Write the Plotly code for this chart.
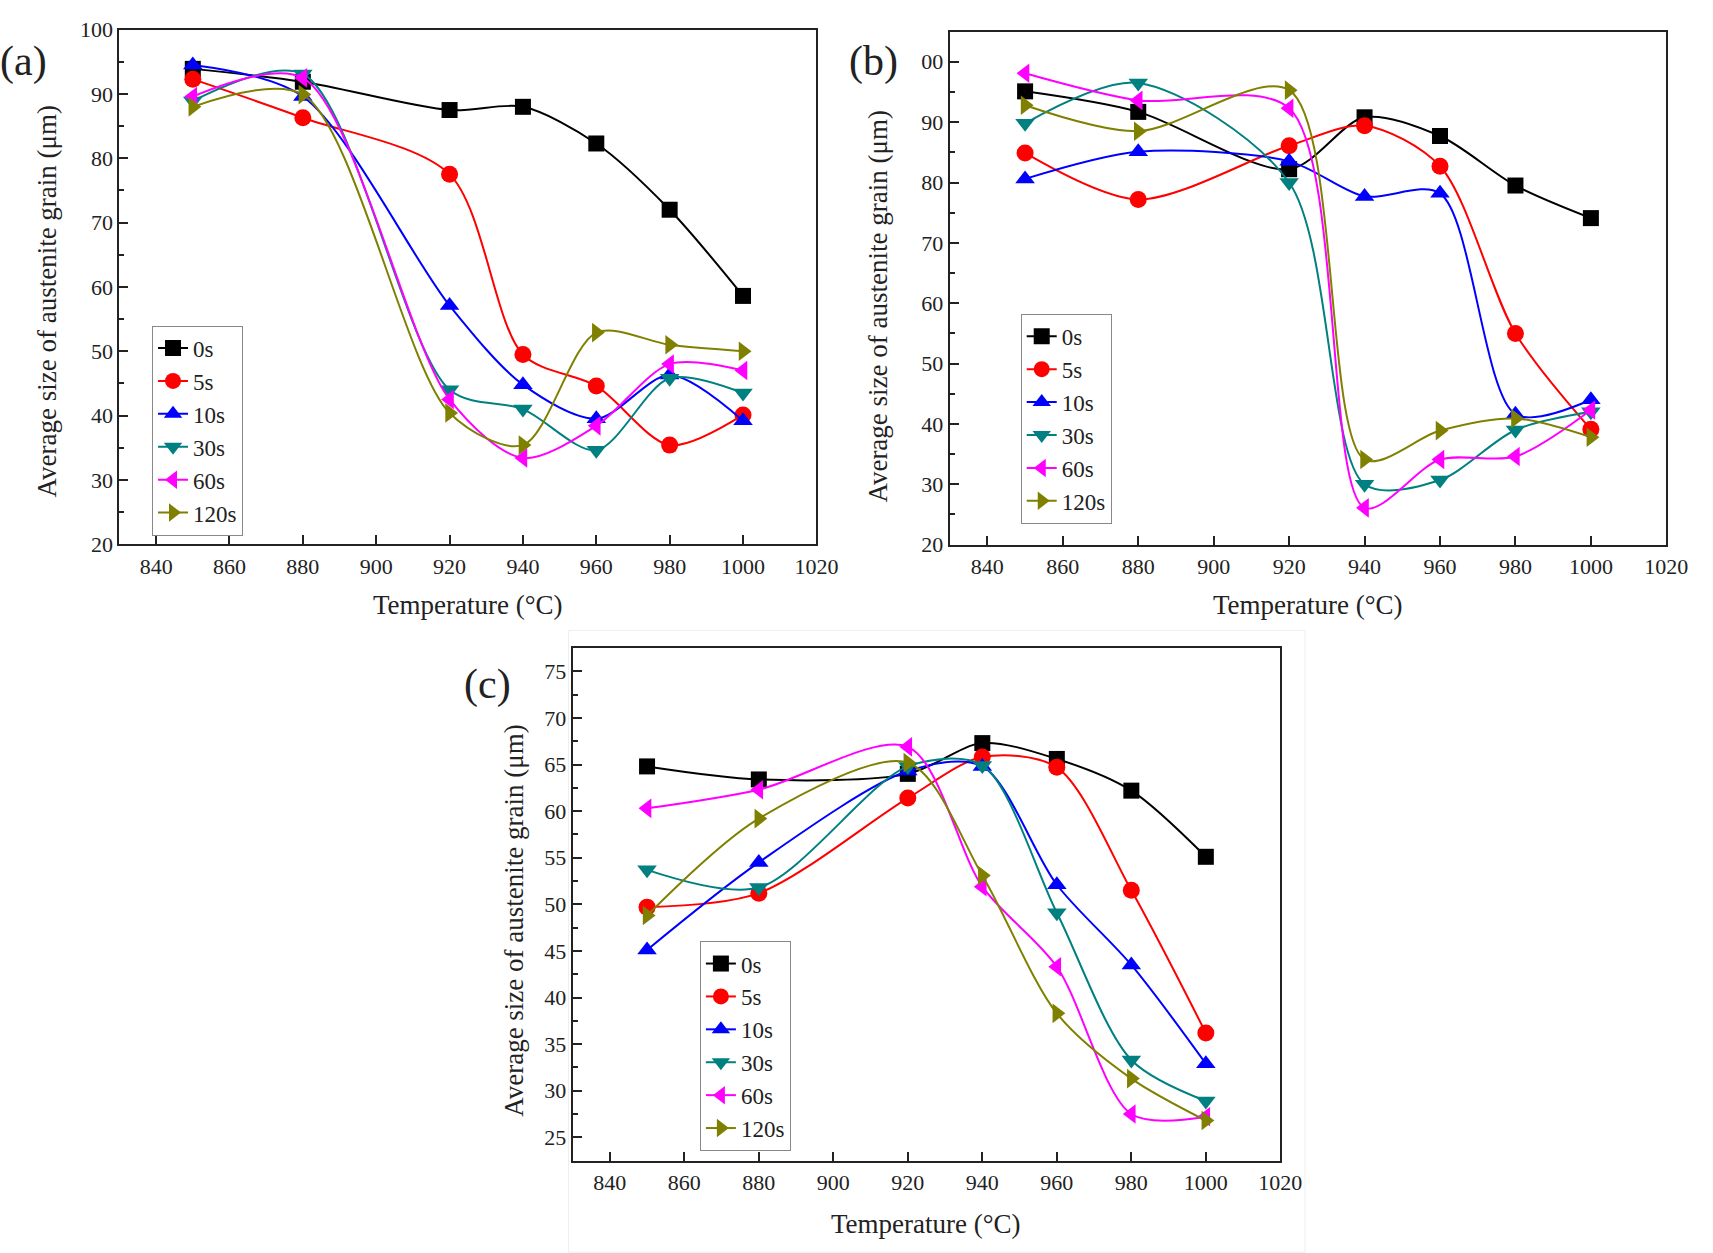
import plotly.graph_objects as go

# ---------------- data ----------------
temps = [850, 880, 920, 940, 960, 980, 1000]
series_names = ["0s", "5s", "10s", "30s", "60s", "120s"]

# panel (a)
a_0s = [93.9, 91.9, 87.5, 88.0, 82.3, 72.0, 58.6]
a_5s = [92.3, 86.3, 77.5, 49.5, 44.6, 35.4, 40.1]
a_10s = [94.5, 89.6, 57.1, 44.8, 39.5, 46.3, 39.2]
a_30s = [88.9, 93.1, 44.0, 41.0, 34.6, 45.8, 43.5]
a_60s = [89.6, 92.5, 42.5, 33.4, 38.4, 48.0, 47.0]
a_120s = [88.0, 89.9, 40.4, 35.4, 52.9, 51.0, 50.0]

# panel (b)
b_0s = [95.1, 91.7, 82.2, 90.8, 87.7, 79.5, 74.1]
b_5s = [84.9, 77.2, 86.1, 89.4, 82.7, 55.0, 39.1]
b_10s = [80.6, 85.1, 83.5, 77.7, 78.2, 41.6, 44.0]
b_30s = [89.8, 96.5, 80.0, 30.0, 30.7, 39.0, 42.0]
b_60s = [98.1, 93.6, 92.3, 26.1, 34.1, 34.6, 42.3]
b_120s = [92.8, 88.5, 95.3, 34.1, 38.9, 40.9, 37.8]

# panel (c)
c_0s = [64.8, 63.4, 64.0, 67.3, 65.6, 62.2, 55.1]
c_5s = [49.7, 51.2, 61.4, 65.8, 64.7, 51.5, 36.2]
c_10s = [45.1, 54.5, 64.3, 64.8, 52.1, 43.5, 32.9]
c_30s = [53.7, 51.8, 64.8, 64.9, 49.1, 33.3, 28.9]
c_60s = [60.3, 62.3, 66.9, 51.9, 43.3, 27.5, 27.2]
c_120s = [48.8, 59.2, 65.2, 53.1, 38.3, 31.3, 26.8]

x_tickvals = [840, 860, 880, 900, 920, 940, 960, 980, 1000, 1020]
x_ticktext = ["840", "860", "880", "900", "920", "940", "960", "980", "1000", "1020"]
a_ytickvals = [20, 30, 40, 50, 60, 70, 80, 90, 100]
a_yticktext = ["20", "30", "40", "50", "60", "70", "80", "90", "100"]
b_ytickvals = [20, 30, 40, 50, 60, 70, 80, 90, 100]
b_yticktext = ["20", "30", "40", "50", "60", "70", "80", "90", "00"]
c_ytickvals = [25, 30, 35, 40, 45, 50, 55, 60, 65, 70, 75]
c_yticktext = ["25", "30", "35", "40", "45", "50", "55", "60", "65", "70", "75"]

panel_labels = ["(a)", "(b)", "(c)"]
x_title = "Temperature (°C)"
y_title = "Average size of austenite grain (μm)"

# ---------------- styles ----------------
colors = ["#000000", "#FF0000", "#0000FF", "#008080", "#FF00FF", "#808000"]
symbols = ["square", "circle", "triangle-up", "triangle-down", "triangle-left", "triangle-right"]
msizes = [16, 17, 17, 17, 17, 17]
FONT = "Liberation Serif"
TXT = "#222222"

W, H = 1713, 1253


def px_x(v):
    return v / W


def px_y(v):
    return 1 - v / H


panels = [
    dict(data=[a_0s, a_5s, a_10s, a_30s, a_60s, a_120s], xdom=(121, 827), ydom=(18, 543),
         yrange=[20, 100], ytv=a_ytickvals, ytt=a_yticktext, minor=5,
         legend=(154, 320), label=(24, 50), ytitle=(48, 295), xtitle=(474, 605)),
    dict(data=[b_0s, b_5s, b_10s, b_30s, b_60s, b_120s], xdom=(962, 1688), ydom=(20, 543.5),
         yrange=[20, 105], ytv=b_ytickvals, ytt=b_yticktext, minor=5,
         legend=(1034, 308), label=(885, 50), ytitle=(889, 300), xtitle=(1325, 605)),
    dict(data=[c_0s, c_5s, c_10s, c_30s, c_60s, c_120s], xdom=(580, 1297), ydom=(649, 1172),
         yrange=[22.5, 77.5], ytv=c_ytickvals, ytt=c_yticktext, minor=2.5,
         legend=(709, 948), label=(494, 686), ytitle=(520, 927), xtitle=(938, 1237)),
]

fig = go.Figure()
layout = dict(
    width=W, height=H, margin=dict(l=0, r=0, t=0, b=0),
    paper_bgcolor="white", plot_bgcolor="white",
    font=dict(family=FONT, color=TXT), showlegend=True,
)
annotations = []
shapes = []

for i, p in enumerate(panels):
    n = "" if i == 0 else str(i + 1)
    xa, ya = "x" + n, "y" + n
    leg = "legend" + n
    for k, name in enumerate(series_names):
        fig.add_trace(go.Scatter(
            x=temps, y=p["data"][k], name=name, mode="lines+markers",
            xaxis=xa, yaxis=ya, legend=leg,
            line=dict(color=colors[k], width=2, shape="spline", smoothing=0.85),
            marker=dict(symbol=symbols[k], size=msizes[k], color=colors[k], line=dict(width=0)),
            cliponaxis=False,
        ))
    x0, x1 = p["xdom"]
    y0, y1 = p["ydom"]
    layout["xaxis" + n] = dict(
        domain=[px_x(x0), px_x(x1)], range=[830, 1020], anchor=ya,
        tickmode="array", tickvals=x_tickvals, ticktext=x_ticktext,
        ticks="inside", ticklen=9, tickwidth=2, tickcolor=TXT,
        showline=True, linewidth=2, linecolor=TXT, mirror=True,
        showgrid=False, zeroline=False,
        tickfont=dict(family=FONT, size=22, color=TXT), ticklabelstandoff=1,
    )
    layout["yaxis" + n] = dict(
        domain=[px_y(y1), px_y(y0)], range=p["yrange"], anchor=xa,
        tickmode="array", tickvals=p["ytv"], ticktext=p["ytt"],
        ticks="inside", ticklen=9, tickwidth=2, tickcolor=TXT,
        minor=dict(ticks="inside", ticklen=5, tickwidth=2, tickcolor=TXT,
                   dtick=p["minor"], tick0=p["yrange"][0], showgrid=False),
        showline=True, linewidth=2, linecolor=TXT, mirror=True,
        showgrid=False, zeroline=False,
        tickfont=dict(family=FONT, size=22, color=TXT), ticklabelstandoff=0,
    )
    lx, ly = p["legend"]
    layout[leg] = dict(
        x=px_x(lx), y=px_y(ly), xanchor="left", yanchor="top",
        xref="paper", yref="paper",
        bgcolor="white", bordercolor="#888888", borderwidth=1,
        font=dict(family=FONT, size=23, color=TXT), tracegroupgap=0,
        itemwidth=30,
    )
    cx, cy = p["label"]
    annotations.append(dict(text=panel_labels[i], x=px_x(cx), y=px_y(cy), xref="paper", yref="paper",
                            showarrow=False, xanchor="center", yanchor="middle",
                            font=dict(family=FONT, size=42, color=TXT)))
    tx, ty = p["ytitle"]
    annotations.append(dict(text=y_title, x=px_x(tx), y=px_y(ty), xref="paper", yref="paper",
                            showarrow=False, xanchor="center", yanchor="middle", textangle=-90,
                            font=dict(family=FONT, size=27, color=TXT)))
    tx, ty = p["xtitle"]
    annotations.append(dict(text=x_title, x=px_x(tx), y=px_y(ty), xref="paper", yref="paper",
                            showarrow=False, xanchor="center", yanchor="middle",
                            font=dict(family=FONT, size=27, color=TXT)))

# faint border of the lower image region
shapes.append(dict(type="rect", xref="paper", yref="paper",
                   x0=px_x(576), x1=px_x(1322), y0=-0.01, y1=px_y(631),
                   line=dict(color="#eeeeee", width=1), layer="below"))

layout["annotations"] = annotations
layout["shapes"] = shapes
fig.update_layout(**layout)
fig.write_html("out.html")
